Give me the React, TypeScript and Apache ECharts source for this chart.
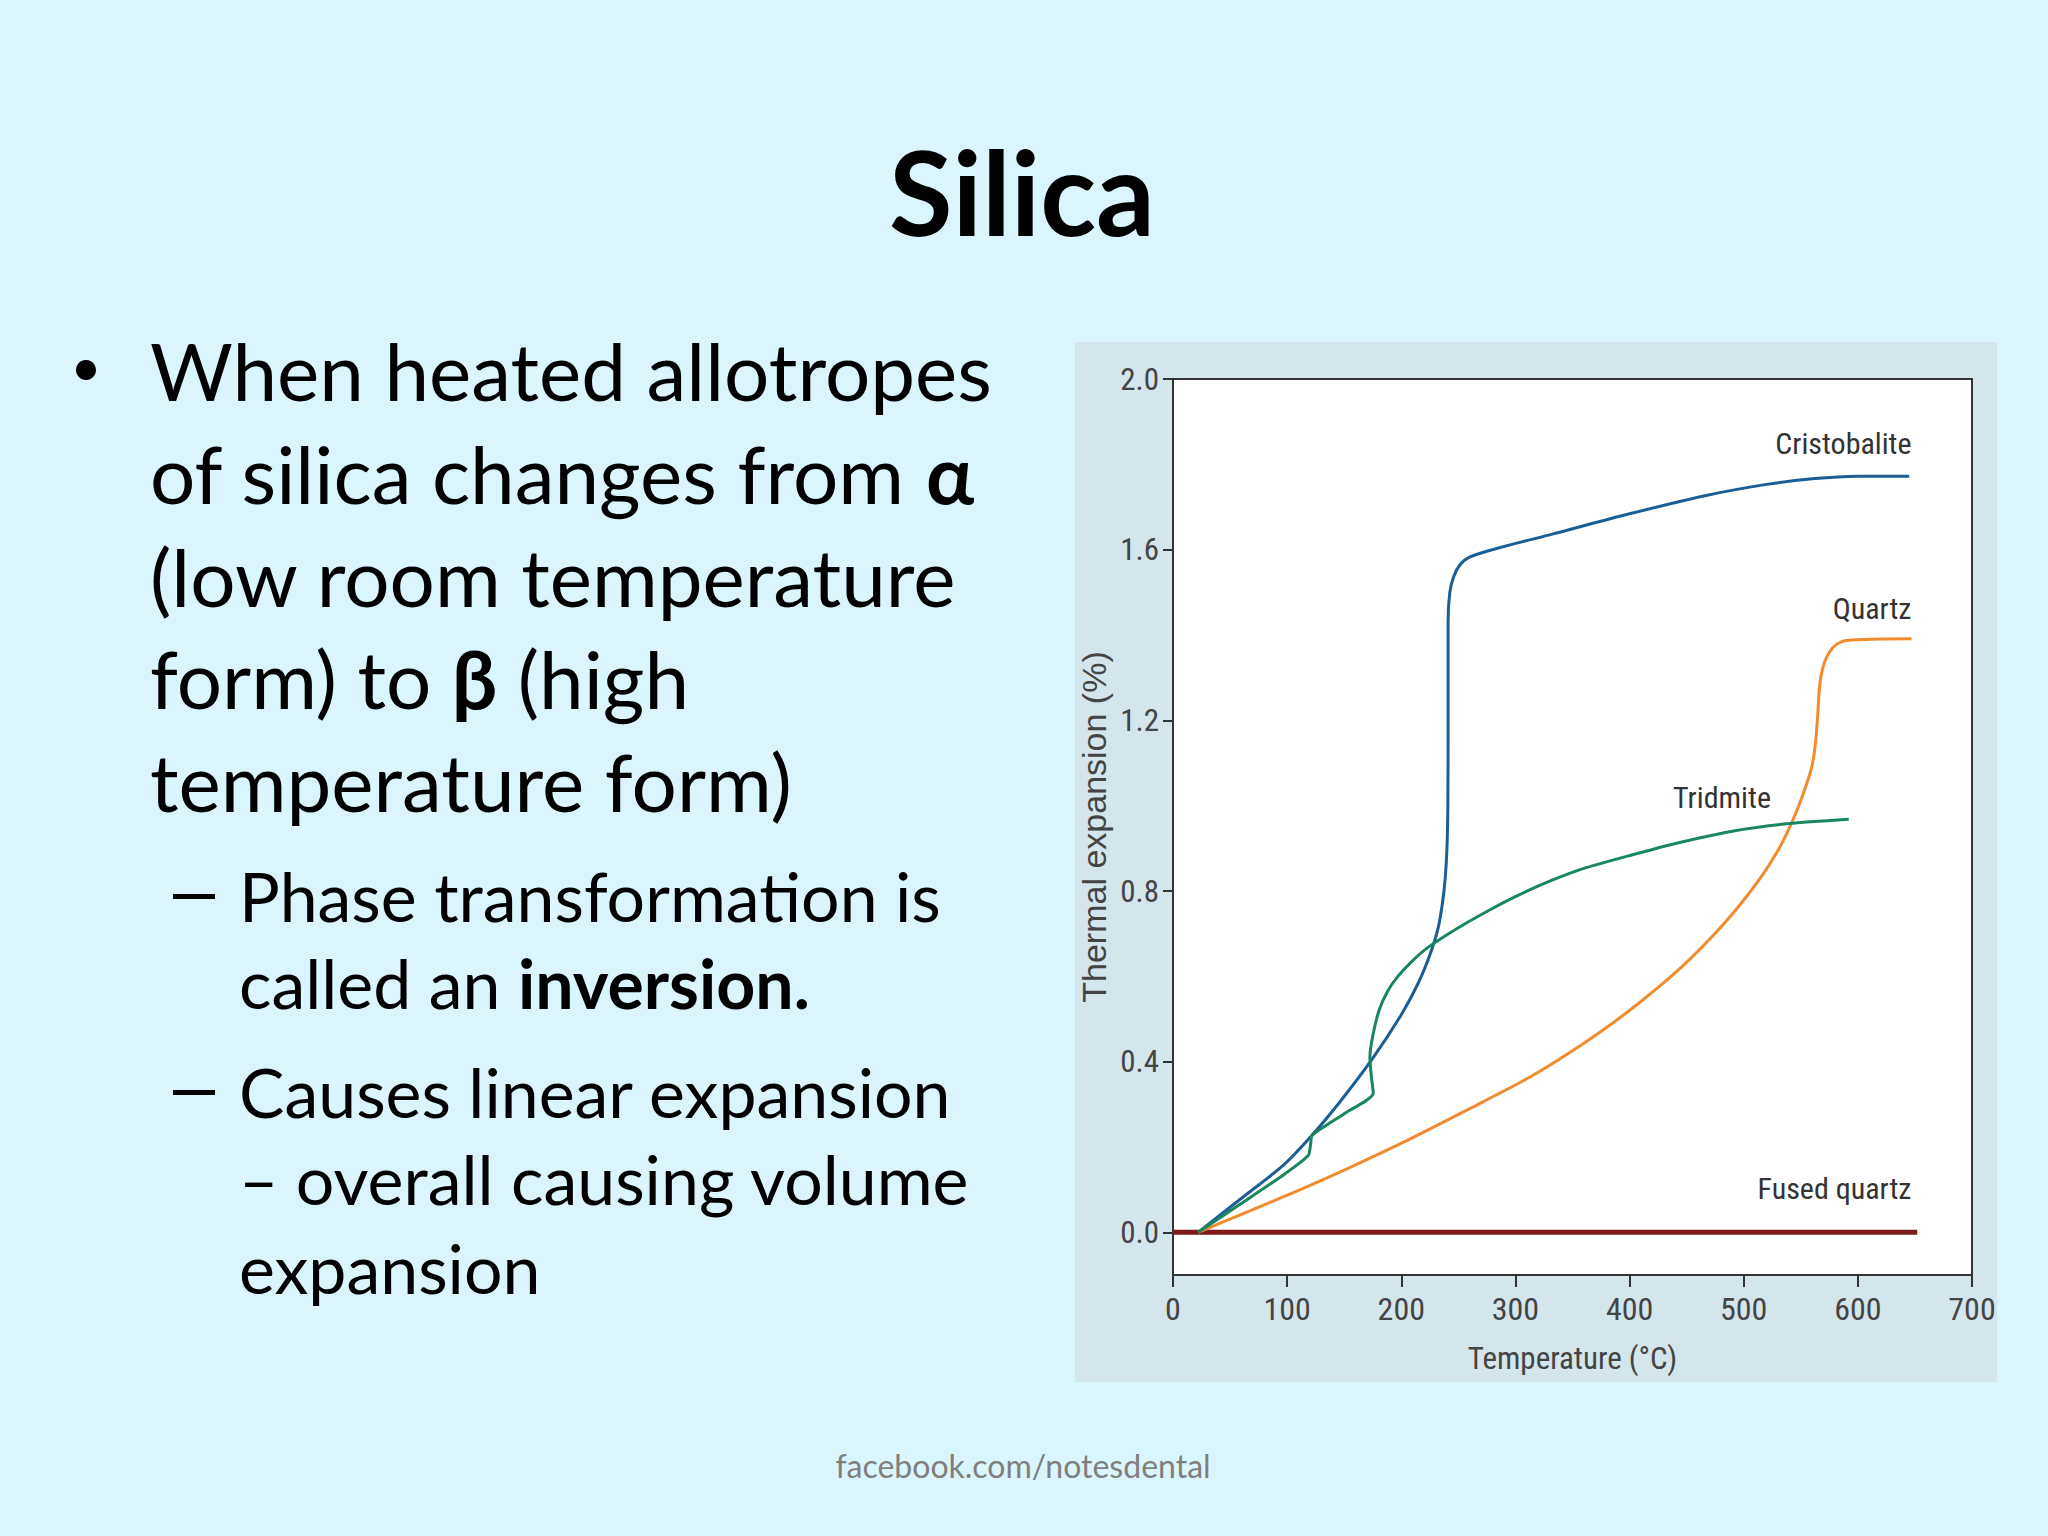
import React, { useEffect, useRef } from 'react';
import * as echarts from 'echarts';

// ---------- data (temperature °C, thermal expansion %) ----------
const cristobalite: [number, number][] = [
  [22, 0], [60, 0.08], [97, 0.158], [120, 0.222], [146, 0.305], [174, 0.404], [200, 0.51],
  [215, 0.585], [225, 0.65], [232, 0.71], [236, 0.77], [238.5, 0.83], [240, 0.9], [240.8, 1.0],
  [241, 1.2], [241, 1.43], [242.5, 1.5], [245.8, 1.536], [251, 1.563], [259.3, 1.582],
  [282.7, 1.602], [333, 1.637], [400, 1.684], [467, 1.727], [520, 1.753], [560, 1.766],
  [600, 1.772], [645, 1.772],
];
const tridymite: [number, number][] = [
  [22, 0], [60, 0.068], [97, 0.135], [118.5, 0.18], [120.5, 0.205], [122, 0.228], [150, 0.278],
  [175.5, 0.326], [174, 0.36], [172.5, 0.41], [175, 0.46], [180.5, 0.52], [188, 0.565],
  [197, 0.6], [210, 0.637], [224, 0.669], [250, 0.714], [277, 0.755], [300, 0.787], [330, 0.823],
  [360, 0.853], [400, 0.883], [435, 0.908], [490, 0.94], [540, 0.958], [592, 0.968],
];
const quartz: [number, number][] = [
  [22, 0], [60, 0.042], [107, 0.095], [150, 0.146], [207, 0.218], [260, 0.29], [308, 0.357],
  [335, 0.4], [360, 0.443], [385, 0.49], [408, 0.537], [430, 0.585], [452, 0.638], [473, 0.695],
  [495, 0.762], [515, 0.832], [530, 0.895], [539, 0.942], [548, 0.998], [555, 1.05], [560, 1.095],
  [563, 1.15], [565, 1.22], [566.5, 1.28], [569, 1.32], [573, 1.35], [580, 1.375], [590, 1.387],
  [647, 1.391],
];
const fusedQuartz: [number, number][] = [[0, 0], [652, 0]];

const seriesNames = ['Cristobalite', 'Quartz', 'Tridmite', 'Fused quartz'];
const labelCoords: [number, number][] = [[647, 1.85], [647, 1.462], [481, 1.018], [647, 0.103]];

const yTicks = [0, 0.4, 0.8, 1.2, 1.6, 2.0];
const xMin = 0;
const xMax = 700;
const xStep = 100;
const yMin = -0.1;
const yMax = 2.0;

const xAxisName = 'Temperature (°C)';
const yAxisName = 'Thermal expansion (%)';

const titleText = 'Silica';
const footerText = 'facebook.com/notesdental';
const mainLines = [
  '{r|When heated allotropes}',
  '{r|of silica changes from }{b|α}',
  '{r|(low room temperature}',
  '{r|form) to }{b|β}{r| (high}',
  '{r|temperature form)}',
];
const subLines = [
  '{r|Phase transformation is}',
  '{r|called an }{b|inversion.}',
  '{r|Causes linear expansion}',
  '{r|– overall causing volume}',
  '{r|expansion}',
];

const NARROW = "'Liberation Sans Narrow', 'Arial Narrow', 'Roboto Condensed', 'Liberation Sans', sans-serif";
const SANS = "'Liberation Sans', Arial, sans-serif";
const SLIDE = "Lato, 'Open Sans', sans-serif";

export default function App() {
  const ref = useRef<HTMLDivElement>(null);

  useEffect(() => {
    if (!ref.current) return;
    const chart = echarts.init(ref.current, null, { renderer: 'svg' });

    const mainSize = 80;
    const subSize = 68;
    const mainRich = {
      r: { fontFamily: SLIDE, fontSize: mainSize, fill: '#000', fontWeight: 'normal' },
      b: { fontFamily: SLIDE, fontSize: mainSize, fill: '#000', fontWeight: 'bold' },
    };
    const subRich = {
      r: { fontFamily: SLIDE, fontSize: subSize, fill: '#000', fontWeight: 'normal' },
      b: { fontFamily: SLIDE, fontSize: subSize, fill: '#000', fontWeight: 'bold' },
    };
    const mainY = [370, 473, 576, 678, 781];
    const subY = [895, 982, 1091, 1178, 1267];

    const graphic: any[] = [
      {
        type: 'rect', z: -1, silent: true,
        shape: { x: 1075, y: 342, width: 922, height: 1040 },
        style: { fill: '#d4e5ec' },
      },
      {
        type: 'text', x: 1022, y: 191,
        style: {
          text: titleText, fontFamily: SLIDE, fontSize: 116, fontWeight: 'bold', fill: '#000',
          align: 'center', verticalAlign: 'middle',
        },
      },
      { type: 'circle', shape: { cx: 86, cy: 370, r: 10 }, style: { fill: '#000' } },
      { type: 'rect', shape: { x: 173, y: 894, width: 42, height: 5 }, style: { fill: '#000' } },
      { type: 'rect', shape: { x: 173, y: 1090, width: 42, height: 5 }, style: { fill: '#000' } },
      {
        type: 'text', x: 1023, y: 1465,
        style: {
          text: footerText, fontFamily: SLIDE, fontSize: 32, fill: '#7f7f7f',
          align: 'center', verticalAlign: 'middle',
        },
      },
    ];
    mainLines.forEach((t, i) => {
      graphic.push({
        type: 'text', x: 150, y: mainY[i],
        style: { text: t, rich: mainRich, align: 'left', verticalAlign: 'middle', fontSize: mainSize, fontFamily: SLIDE },
      });
    });
    subLines.forEach((t, i) => {
      graphic.push({
        type: 'text', x: 239, y: subY[i],
        style: { text: t, rich: subRich, align: 'left', verticalAlign: 'middle', fontSize: subSize, fontFamily: SLIDE },
      });
    });

    const labelStyle = { color: '#333', fontSize: 30, fontFamily: NARROW };
    const mkLabel = (idx: number, pos: string) => ({
      symbol: 'circle',
      symbolSize: 0,
      silent: true,
      itemStyle: { color: 'transparent' },
      label: { show: true, position: pos, distance: 0, formatter: seriesNames[idx], ...labelStyle },
      data: [{ coord: labelCoords[idx] }],
    });

    const axisLineStyle = { color: '#333', width: 2 };

    const option: any = {
      animation: false,
      backgroundColor: '#dbf5fd',
      graphic,
      grid: {
        left: 1173, top: 379, width: 799, height: 896,
        show: true, backgroundColor: '#ffffff', borderColor: '#333', borderWidth: 2,
      },
      xAxis: {
        type: 'value', min: xMin, max: xMax, interval: xStep,
        axisLine: { show: true, onZero: false, lineStyle: axisLineStyle },
        axisTick: { show: true, inside: false, length: 12, lineStyle: axisLineStyle },
        axisLabel: { color: '#444', fontSize: 32, fontFamily: NARROW, margin: 18 },
        splitLine: { show: false },
        name: xAxisName, nameLocation: 'middle', nameGap: 68,
        nameTextStyle: { color: '#444', fontSize: 31, fontFamily: NARROW },
      },
      yAxis: {
        type: 'value', min: yMin, max: yMax,
        axisLine: { show: true, onZero: false, lineStyle: axisLineStyle },
        axisTick: { show: true, inside: false, length: 10, customValues: yTicks, lineStyle: axisLineStyle },
        axisLabel: {
          customValues: yTicks, color: '#444', fontSize: 31, fontFamily: NARROW, margin: 14,
          formatter: (v: number) => v.toFixed(1),
        },
        splitLine: { show: false },
        name: yAxisName, nameLocation: 'middle', nameGap: 62, nameRotate: 90,
        nameTextStyle: { color: '#444', fontSize: 34, fontFamily: SANS },
      },
      series: [
        {
          name: seriesNames[0], type: 'line', data: cristobalite, symbol: 'none', smooth: 0.3,
          lineStyle: { color: '#1b5e96', width: 3 }, z: 4,
          markPoint: mkLabel(0, 'left'),
        },
        {
          name: seriesNames[1], type: 'line', data: quartz, symbol: 'none', smooth: 0.3,
          lineStyle: { color: '#f08c2d', width: 3 }, z: 3,
          markPoint: mkLabel(1, 'left'),
        },
        {
          name: seriesNames[2], type: 'line', data: tridymite, symbol: 'none', smooth: 0.2,
          lineStyle: { color: '#17875e', width: 3 }, z: 5,
          markPoint: mkLabel(2, 'inside'),
        },
        {
          name: seriesNames[3], type: 'line', data: fusedQuartz, symbol: 'none',
          lineStyle: { color: '#7d1a1a', width: 5 }, z: 2,
          markPoint: mkLabel(3, 'left'),
        },
      ],
    };

    chart.setOption(option);
    return () => chart.dispose();
  }, []);

  return (
    <div
      ref={ref}
      style={{ position: 'fixed', left: 0, top: 0, width: 2048, height: 1536 }}
    />
  );
}
